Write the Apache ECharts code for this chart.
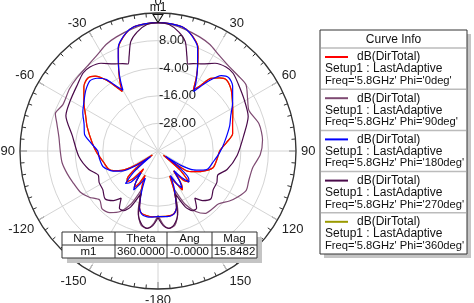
<!DOCTYPE html>
<html><head><meta charset="utf-8">
<script src="https://cdn.jsdelivr.net/npm/echarts@6/dist/echarts.min.js"></script>
<style>html,body{margin:0;padding:0;background:#fff;overflow:hidden}#c{width:474px;height:303px}</style>
</head><body><div id="c"></div>
<script>
// ---- data (theta in degrees, value in dB) ----
const seriesNames = ["Phi='0deg'", "Phi='90deg'", "Phi='180deg'", "Phi='270deg'", "Phi='360deg'"];
const seriesColors = ['#ff0000', '#7e4a72', '#0000ff', '#4a0a4a', '#9a9a00'];

const phi0Theta = [-180,-175,-170,-165,-162,-158,-155,-152,-150,-147,-144,-141,-138,-135,-132,-128,-125,-122,-118,-114,-110,-102,-92,-83,-71,-64,-57,-49,-44,-40,-36,-33,-31,-29,-26,-23,-21,-19,-15,-11,-6,0,6,11,15,19,21,23,26,28,30,33,36,40,44,50,56,63,70,77,83,90,97,107,115,120,125,128,131,135,139,142,145,148,151,155,158,162,166,172,180];
const phi0DB = [-11.5,-11.3,-11.5,-12,-14,-20,-24,-28,-24,-21,-24,-30,-24,-21,-22,-28,-37,-28,-22,-19,-17.1,-15.9,-13.5,-11.2,-7.4,-5,-1.6,2.7,4.0,2.5,-2,-7,-9.8,-6,-1,4,8,10.2,13.2,15.0,15.6,15.85,15.6,15.0,13.3,10.5,8.5,4.5,-1,-5,-9.3,-6,-1,1.5,2.9,1.5,-1,-3.5,-5.5,-6.7,-10,-13.2,-14,-15,-19,-22,-25,-37,-27,-21,-23,-29,-22,-20,-24,-28,-21,-14,-11.8,-11.4,-11.5];

const phi90Theta = [-180,-176,-172,-167,-162,-157,-153,-148,-142,-136,-130,-124,-118,-110,-104,-97,-90,-82,-75,-70,-64,-55,-48,-40,-32,-26,-20,-12,-5,0,5,12,20,26,32,40,47,53,60,66,75,84,92,100,108,114,120,125,131,137,143,148,153,157,162,167,172,176,180];
const phi90DB = [-12,-8,-6,-7,-12,-22,-14,-9,-6,-5,-6.9,-4,-1.8,-0.5,0.7,2,2.5,3.5,5.5,7.5,6,7,7.5,8,9.5,11.5,12.8,14.3,15.5,15.85,15.5,14.3,12.8,11.5,9.5,8,7.8,7.9,5,3.3,5.5,5.7,4.5,1.8,1.5,2,0,-2.1,-5,-5.5,-6,-9,-14,-22,-12,-7,-6,-8,-12];

const phi180Theta = [-180,-172,-166,-162,-158,-155,-151,-148,-145,-142,-139,-135,-131,-127,-124,-119,-114,-106,-97,-90,-83,-77,-70,-63,-56,-50,-44,-40,-36,-33,-30,-28,-26,-23,-21,-19,-15,-11,-6,0,6,11,15,19,21,23,26,29,31,33,36,40,44,49,57,64,71,83,92,102,110,114,118,122,125,128,132,135,138,141,144,147,150,153,156,159,162,166,172,180];
const phi180DB = [-11.5,-11.0,-11.5,-14,-21,-27,-23,-20,-23,-28,-22,-20,-26,-36,-29,-22,-18.5,-15.2,-14.3,-13.8,-10.5,-7.2,-5.8,-3.3,-1.2,1.0,2.5,1.3,-1.5,-6,-9.5,-5.2,-1.2,4.3,8.3,10.4,13.3,15.0,15.6,15.85,15.6,15.0,13.2,10.2,8.1,4.1,-1,-6,-9.8,-7,-2.2,2.8,4.3,3.0,-1.3,-4.8,-7.1,-11,-13.3,-15.7,-17,-19.5,-22.5,-28,-36,-28,-22,-21,-24,-29,-24,-21,-23.5,-28,-23,-19,-14,-11.7,-11.2,-11.5];

const phi270Theta = [-180,-176,-172,-168,-163,-158,-154,-150,-146,-142,-138,-132,-125,-118,-112,-105,-94,-80,-69,-60,-50,-44,-39,-33,-27,-22,-19,-17,-14,-10,-5,0,5,10,14,17,19,22,27,33,39,44,50,60,69,80,93,105,112,118,125,132,138,142,146,150,154,158,163,168,172,176,180];
const phi270DB = [-11,-7.5,-6,-7,-11,-20,-13,-10,-10,-14,-11,-9,-10.7,-11,-12,-8.9,-5.5,-2.2,2.9,4,5.5,7,7,5.5,2.5,1,0,3,9,12.5,15.2,15.85,15.2,12.5,9,3,0,1,2.5,5.5,7,7,5.5,3.5,2,-2.2,-5.5,-8.9,-12,-11,-10.7,-9,-11,-14,-10,-10,-13,-20,-11,-7,-6,-7.5,-11];

// phi = 360deg coincides with phi = 0deg
const phi360Theta = phi0Theta;
const phi360DB = phi0DB;

const radialMin = -40, radialMax = 20, radialStep = 12;
const markerName = 'm1', markerTheta = 0, markerMag = 15.8482;
const tableHeader = ['Name', 'Theta', 'Ang', 'Mag'];
const tableRow = ['m1', '360.0000', '-0.0000', '15.8482'];
const legendTitle = 'Curve Info';
const legendLine1 = 'dB(DirTotal)';
const legendLine2 = 'Setup1 : LastAdaptive';
const legendFreq = "Freq='5.8GHz'";

// ---- chart ----
const thetaSets = [phi0Theta, phi90Theta, phi180Theta, phi270Theta, phi360Theta];
const dbSets = [phi0DB, phi90DB, phi180DB, phi270DB, phi360DB];
const FONT = 'Liberation Sans, Arial, sans-serif';

function toPolar(th, db) {
  return th.map((t, i) => [db[i], t < 0 ? t + 360 : t]);
}

const series = seriesNames.map((n, k) => {
  const s = {
    type: 'line', coordinateSystem: 'polar', name: n,
    data: toPolar(thetaSets[k], dbSets[k]),
    showSymbol: false, smooth: 0.25, animation: false,
    lineStyle: { color: seriesColors[k], width: 1.2 },
    itemStyle: { color: seriesColors[k] },
    z: k === 4 ? 1 : 2
  };
  if (k === 0) {
    s.markPoint = {
      animation: false,
      data: [{ coord: [markerMag, markerTheta], name: markerName }],
      symbol: 'triangle', symbolRotate: 180, symbolSize: [10, 8], symbolOffset: [0, -4],
      itemStyle: { color: 'rgba(0,0,0,0)', borderColor: '#111', borderWidth: 1 },
      label: { show: true, position: 'top', distance: 0, formatter: markerName, color: '#111', fontSize: 12, fontFamily: FONT }
    };
  }
  return s;
});

// legend box (graphic)
const gfx = [];
const LX = 320, LY = 30, LW = 147, LH = 224;
gfx.push({ type: 'rect', shape: { x: LX + 4, y: LY + 4, width: LW, height: LH }, style: { fill: '#c4c4c4' }, z: 10 });
gfx.push({ type: 'rect', shape: { x: LX, y: LY, width: LW, height: LH }, style: { fill: '#fff', stroke: '#333', lineWidth: 1 }, z: 11 });
gfx.push({ type: 'text', x: LX + LW / 2, y: LY + 10, style: { text: legendTitle, font: '12px ' + FONT, fill: '#111', align: 'center', verticalAlign: 'middle' }, z: 12 });
const rowH = 41.2;
seriesNames.forEach((n, i) => {
  const top = LY + 18 + i * rowH;
  gfx.push({ type: 'line', shape: { x1: LX + 1, y1: top, x2: LX + LW - 1, y2: top }, style: { stroke: '#bbb', lineWidth: 1.5 }, z: 12 });
  gfx.push({ type: 'line', shape: { x1: LX + 5, y1: top + 9, x2: LX + 28, y2: top + 9 }, style: { stroke: seriesColors[i], lineWidth: 2 }, z: 12 });
  gfx.push({ type: 'text', x: LX + 37, y: top + 9, style: { text: legendLine1, font: '12px ' + FONT, fill: '#111', verticalAlign: 'middle' }, z: 12 });
  gfx.push({ type: 'text', x: LX + 5, y: top + 21, style: { text: legendLine2, font: '12px ' + FONT, fill: '#111', verticalAlign: 'middle' }, z: 12 });
  gfx.push({ type: 'text', x: LX + 5, y: top + 33, style: { text: legendFreq + ' ' + n, font: '11.2px ' + FONT, fill: '#111', verticalAlign: 'middle' }, z: 12 });
});

// marker table (graphic)
const TX = 62, TY = 232, TW = 195, TH = 26;
const colX = [TX, 115, 167, 212, TX + TW];
gfx.push({ type: 'rect', shape: { x: TX + 5, y: TY + 5, width: TW, height: TH }, style: { fill: '#c4c4c4' }, z: 10 });
gfx.push({ type: 'rect', shape: { x: TX, y: TY, width: TW, height: TH }, style: { fill: '#fff', stroke: '#333', lineWidth: 1 }, z: 11 });
gfx.push({ type: 'line', shape: { x1: TX, y1: TY + 13, x2: TX + TW, y2: TY + 13 }, style: { stroke: '#333', lineWidth: 1 }, z: 12 });
for (let c = 1; c < 4; c++) gfx.push({ type: 'line', shape: { x1: colX[c], y1: TY, x2: colX[c], y2: TY + TH }, style: { stroke: '#333', lineWidth: 1 }, z: 12 });
for (let c = 0; c < 4; c++) {
  const cx = (colX[c] + colX[c + 1]) / 2;
  gfx.push({ type: 'text', x: cx, y: TY + 7, style: { text: tableHeader[c], font: '11.5px ' + FONT, fill: '#111', align: 'center', verticalAlign: 'middle' }, z: 12 });
  gfx.push({ type: 'text', x: cx, y: TY + 20, style: { text: tableRow[c], font: '11.5px ' + FONT, fill: '#111', align: 'center', verticalAlign: 'middle' }, z: 12 });
}

const topLabels = [30, 60, 300, 330];
const chart = echarts.init(document.getElementById('c'), null, { renderer: 'canvas' });
chart.setOption({
  animation: false,
  backgroundColor: '#fff',
  polar: { center: [158, 151], radius: 138 },
  angleAxis: {
    type: 'value', min: 0, max: 360, interval: 30, startAngle: 90, clockwise: true,
    axisLine: { show: true, lineStyle: { color: '#333', width: 1.3 } },
    axisTick: { show: true, inside: true, length: 7, lineStyle: { color: '#333' } },
    minorTick: { show: true, splitNumber: 6, length: 4, lineStyle: { color: '#333' } },
    splitLine: { show: true, lineStyle: { color: '#d4d4d4', width: 1 } },
    axisLabel: {
      margin: 5, color: '#222', fontSize: 13, fontFamily: FONT, showMinLabel: true, showMaxLabel: true,
      formatter: v => {
        const t = (v === 0 || v === 360) ? '0' : (v >= 180 ? String(v - 360) : String(v));
        return topLabels.indexOf(v) >= 0 ? '{t|' + t + '}' : t;
      },
      rich: { t: { fontSize: 13, fontFamily: FONT, color: '#222', lineHeight: 8 } }
    }
  },
  radiusAxis: {
    type: 'value', min: radialMin, max: radialMax, interval: radialStep,
    axisLine: { show: false }, axisTick: { show: false },
    splitLine: { show: true, lineStyle: { color: '#d4d4d4', width: 1 } },
    axisLabel: {
      margin: -1, align: 'left', verticalAlign: 'middle', color: '#222', fontSize: 13, fontFamily: FONT,
      formatter: v => (v === radialMin || v === radialMax) ? '' : v.toFixed(2)
    }
  },
  series: series,
  graphic: gfx
});
</script></body></html>
